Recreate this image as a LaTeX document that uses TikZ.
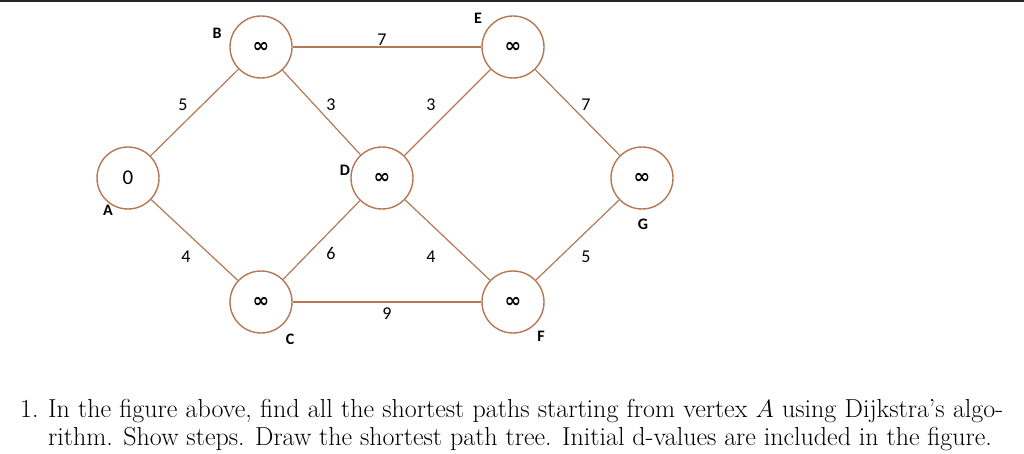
\documentclass[tikz,border=0pt]{standalone}
\usepackage{fontspec}
\newfontfamily\carl{Carlito}
\newfontfamily\djv{DejaVu Sans}
\newcommand\infsym{{\djv\bfseries\fontsize{20}{20}\selectfont ∞}}
\begin{document}
\begin{tikzpicture}[x=1pt,y=-1pt,
  vert/.style={circle,draw=edgec,line width=1.4pt,minimum size=62pt,inner sep=0pt,font=\carl\fontsize{21}{21}\selectfont},
  lbl/.style={font=\carl\bfseries\fontsize{16}{16}\selectfont},
  wt/.style={font=\carl\fontsize{18}{18}\selectfont},
  edge/.style={draw=edgec,line width=1.2pt}]
\definecolor{edgec}{RGB}{180,120,86}
\useasboundingbox (0,0) rectangle (1024,454);
\fill[black!85] (0,0) rectangle (1024,2);
\node[vert] (A) at (128,178) {0};
\node[vert] (B) at (261,47) {\infsym};
\node[vert] (E) at (513,47) {\infsym};
\node[vert] (D) at (382,178) {\infsym};
\node[vert] (G) at (642,178) {\infsym};
\node[vert] (C) at (261,302) {\infsym};
\node[vert] (F) at (513,302) {\infsym};
\draw[edge] (A)--(B); \draw[edge] (A)--(C); \draw[edge] (B)--(E); \draw[edge] (B)--(D);
\draw[edge] (E)--(D); \draw[edge] (E)--(G); \draw[edge] (D)--(C); \draw[edge] (D)--(F);
\draw[edge] (C)--(F); \draw[edge] (F)--(G);
\node[lbl] (lA) at (108,210) {A};
\node[lbl] (lB) at (217,33) {B};
\node[lbl] (lE) at (478,18) {E};
\node[lbl] (lD) at (345,170) {D};
\node[lbl] (lG) at (643,224) {G};
\node[lbl] (lC) at (290,339) {C};
\node[lbl] (lF) at (541,336) {F};
\node[wt] (w1) at (382,40) {7};
\node[wt] (w2) at (183,105) {5};
\node[wt] (w3) at (331,105) {3};
\node[wt] (w4) at (431,105) {3};
\node[wt] (w5) at (586,105) {7};
\node[wt] (w6) at (186,257) {4};
\node[wt] (w7) at (331,253) {6};
\node[wt] (w8) at (431,257) {4};
\node[wt] (w9) at (586,257) {5};
\node[wt] (w10) at (387,314) {9};
\node[anchor=base west,inner sep=0pt,font=\fontsize{26}{30}\selectfont] (n1) at (20,417) {1.};
\node[anchor=base west,inner sep=0pt,font=\fontsize{26}{30}\selectfont] (t1) at (48,417) {\makebox[955pt][s]{In the figure above, find all the shortest paths starting from vertex $A$ using Dijkstra's algo-}};
\node[anchor=base west,inner sep=0pt,font=\fontsize{26}{30}\selectfont] (t2) at (48,445) {rithm. Show steps. Draw the shortest path tree. Initial d-values are included in the figure.};
\end{tikzpicture}
\end{document}
